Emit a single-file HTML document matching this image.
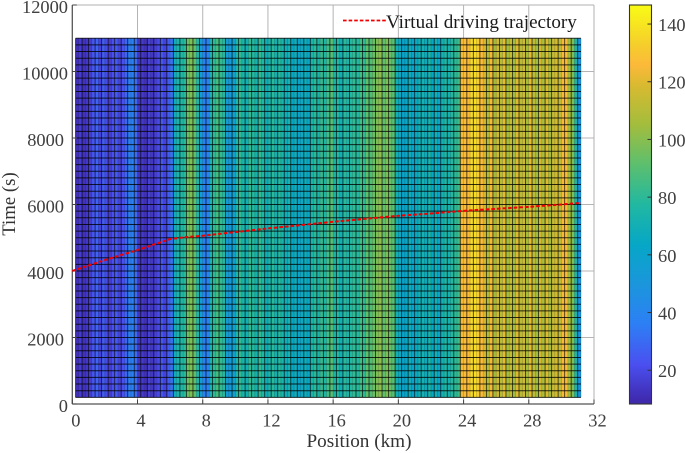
<!DOCTYPE html>
<html lang="en">
<head>
<meta charset="utf-8">
<title>Virtual driving trajectory heatmap</title>
<style>
html,body{margin:0;padding:0;background:#fff;width:685px;height:453px;overflow:hidden}
svg{display:block;font-family:"Liberation Serif",serif}
</style>
</head>
<body>
<svg id="chart" width="685" height="453" viewBox="0 0 685 453" xmlns="http://www.w3.org/2000/svg">
  <g id="grid"></g>
  <g id="cells"></g>
  <g id="cell-lines"></g>
  <g id="axes"></g>
  <path id="trajectory" fill="none" stroke="#f00000" stroke-width="2" stroke-dasharray="3.6 2"></path>
  <g>
    <line x1="343" y1="20.5" x2="386" y2="20.5" stroke="#f00000" stroke-width="1.8" stroke-dasharray="3.6 2"></line>
    <text x="386" y="28" font-size="19.1" fill="#1a1a1a">Virtual driving trajectory</text>
  </g>
  <text x="359" y="447" font-size="19.2" fill="#333" text-anchor="middle">Position (km)</text>
  <text transform="translate(15,204) rotate(-90)" font-size="18.8" fill="#333" text-anchor="middle">Time (s)</text>
  <g id="colorbar"></g>
</svg>
<script>
const columnSpeeds = [
  12,16,12,14,16,
  24,28,18,26,20,16,22,26,18,22,
  28,36,38,30,
  13,15,12,17,14,17,
  20,24,18,26,32,
  68,74,76,80,
  94,98,92,
  76,54,36,38,
  74,80,86,82,78,
  54,52,58,
  76,82,74,70,82,78,72,82,76,68,74,80,70,78,74,68,72,
  64,68,60,66,68,62,
  74,80,74,82,76,86,90,
  74,78,70,80,74,
  78,82,78,86,80,
  92,88,94,98,
  102,92,98,94,90,
  70,66,60,64,68,60,66,70,
  72,66,74,64,70,62,72,76,72,78,80,84,
  124,127,126,
  136,138,132,127,
  118,108,124,104,116,110,122,106,114,104,120,110,116,106,122,112,104,118,108,120,106,114,118,112,
  125,127,106,98,74,48
];
const trajectoryPositions = [0,2,4,6,7,8,10,12,14,16,18,20,22,24,26,28,30,31.2];
const trajectoryTimes = [4000,4330,4630,4960,5020,5060,5170,5280,5380,5480,5570,5660,5730,5810,5870,5930,6000,6050];
const xTickLabels = [0,4,8,12,16,20,24,28,32];
const yTickLabels = [0,2000,4000,6000,8000,10000,12000];
const colorbarTickLabels = [20,40,60,80,100,120,140];
const colorStops = [
  [0,"#3e26a8"],[0.1,"#4a50f0"],[0.2,"#2d7ff5"],[0.3,"#1b96dc"],[0.4,"#06a7c6"],
  [0.5,"#21b8a1"],[0.6,"#5cbf6e"],[0.7,"#a3bd3d"],[0.8,"#d9ba30"],[0.85,"#fcb93a"],
  [0.9,"#f5ce2c"],[1,"#f9fb15"]
];
const speedMin = 8.3, speedMax = 146.6;
const cellWidthKm = 0.2, cellHeightS = 200, firstKm = 0.2, firstTime = 200, lastTime = 11000;

const NS = "http://www.w3.org/2000/svg";
const plot = {left:72.3, right:594, top:5, bottom:404};
const bar = {left:629.5, right:651.5, top:5, bottom:404};
const xScale = km => plot.left + km / 32 * (plot.right - plot.left);
const yScale = t => plot.bottom - t / 12000 * (plot.bottom - plot.top);
const barScale = v => bar.bottom - (v - speedMin) / (speedMax - speedMin) * (bar.bottom - bar.top);

function hexToRgb(h){return [1,3,5].map(i => parseInt(h.slice(i,i+2),16));}
function colorAt(t){
  t = Math.max(0, Math.min(1, t));
  for (let i = 1; i < colorStops.length; i++) {
    if (t <= colorStops[i][0]) {
      const a = colorStops[i-1], b = colorStops[i];
      const f = (t - a[0]) / (b[0] - a[0]);
      const ca = hexToRgb(a[1]), cb = hexToRgb(b[1]);
      return "rgb(" + ca.map((c,k) => Math.round(c + (cb[k]-c)*f)).join(",") + ")";
    }
  }
  return colorStops[colorStops.length-1][1];
}
function svgEl(tag, attrs, parent){
  const el = document.createElementNS(NS, tag);
  for (const k in attrs) el.setAttribute(k, attrs[k]);
  parent.appendChild(el);
  return el;
}

const gridG = document.getElementById("grid");
const cellsG = document.getElementById("cells");
const edgesG = document.getElementById("cell-lines");
const axesG = document.getElementById("axes");
const barG = document.getElementById("colorbar");

/* grid */
xTickLabels.slice(1, -1).forEach(v => {
  const l = svgEl("line", {x1:xScale(v), x2:xScale(v), y1:plot.top, y2:plot.bottom, stroke:"#b4b4b4", "stroke-width":1}, gridG);
  
  
});
yTickLabels.slice(1, -1).forEach(v => {
  const l = svgEl("line", {x1:plot.left, x2:plot.right, y1:yScale(v), y2:yScale(v), stroke:"#b4b4b4", "stroke-width":1}, gridG);
  
  
});

/* heatmap cells */
for (let t = firstTime; t < lastTime; t += cellHeightS) {
  columnSpeeds.forEach((speed, i) => {
    const km = firstKm + i * cellWidthKm;
    const x0 = xScale(km), x1 = xScale(km + cellWidthKm);
    const y0 = yScale(t + cellHeightS), y1 = yScale(t);
    const r = svgEl("rect", {x:x0, y:y0, width:x1-x0+0.15, height:y1-y0+0.15, fill:colorAt((speed-speedMin)/(speedMax-speedMin))}, cellsG);
    
    
  });
}
/* cell edges */
columnSpeeds.concat([0]).forEach((_, i) => {
  const x = xScale(firstKm + i * cellWidthKm);
  const strong = i % 2 === 0;
  const l = svgEl("line", {x1:x, x2:x, y1:yScale(lastTime), y2:yScale(firstTime),
    stroke:"#000", "stroke-width":strong ? 0.9 : 0.5, "stroke-opacity":strong ? 0.7 : 0.3}, edgesG);
  
  
});
for (let t = firstTime; t <= lastTime; t += cellHeightS) {
  const y = yScale(t);
  const l = svgEl("line", {x1:xScale(firstKm), x2:xScale(firstKm + columnSpeeds.length * cellWidthKm), y1:y, y2:y,
    stroke:"#000", "stroke-width":1, "stroke-opacity":0.8}, edgesG);
  
  
}

/* axes box */
[[plot.left,plot.top,plot.right,plot.top,"#b0b0b0",1],[plot.right,plot.top,plot.right,plot.bottom,"#b0b0b0",1],
 [plot.left,plot.top,plot.left,plot.bottom,"#555",1.3],[plot.left,plot.bottom,plot.right,plot.bottom,"#555",1.3]].forEach(s => {
  const l = svgEl("line", {x1:s[0], y1:s[1], x2:s[2], y2:s[3], stroke:s[4], "stroke-width":s[5]}, axesG);
  
  
});
xTickLabels.forEach(v => {
  const x = xScale(v);
  const tick = svgEl("line", {x1:x, x2:x, y1:plot.bottom, y2:plot.bottom-4.5, stroke:"#444", "stroke-width":1}, axesG);
  
  
  const tx = svgEl("text", {x:x+3.5, y:426.5, "font-size":18.4, fill:"#404040", "text-anchor":"middle"}, axesG);
  
  
  tx.textContent = v;
});
yTickLabels.forEach(v => {
  const y = yScale(v);
  const tick = svgEl("line", {x1:plot.left, x2:plot.left+4.5, y1:y, y2:y, stroke:"#444", "stroke-width":1}, axesG);
  
  
  const labelRight = String(v).length === 4 ? 64 : 68;
  const tx = svgEl("text", {x:labelRight, y:y+8, "font-size":18.4, fill:"#404040", "text-anchor":"end"}, axesG);
  
  
  tx.textContent = v;
});

/* trajectory */
document.getElementById("trajectory").setAttribute("d",
  trajectoryPositions.map((p, i) => (i ? "L" : "M") + xScale(p).toFixed(2) + " " + yScale(trajectoryTimes[i]).toFixed(2)).join(" "));

/* colorbar */
for (let y = bar.top; y < bar.bottom; y += 1) {
  const t = 1 - (y + 0.5 - bar.top) / (bar.bottom - bar.top);
  const r = svgEl("rect", {x:bar.left, y:y, width:bar.right-bar.left, height:1.2, fill:colorAt(t)}, barG);
  
  
}
const frame = svgEl("rect", {x:bar.left, y:bar.top, width:bar.right-bar.left, height:bar.bottom-bar.top, fill:"none", stroke:"#333", "stroke-width":1.1}, barG);


colorbarTickLabels.forEach(v => {
  const y = barScale(v);
  const tick = svgEl("line", {x1:bar.right-4, x2:bar.right, y1:y, y2:y, stroke:"#333", "stroke-width":1}, barG);
  
  
  const tx = svgEl("text", {x:658, y:y+7, "font-size":18.4, fill:"#404040"}, barG);
  
  
  tx.textContent = v;
});
</script>
</body>
</html>
